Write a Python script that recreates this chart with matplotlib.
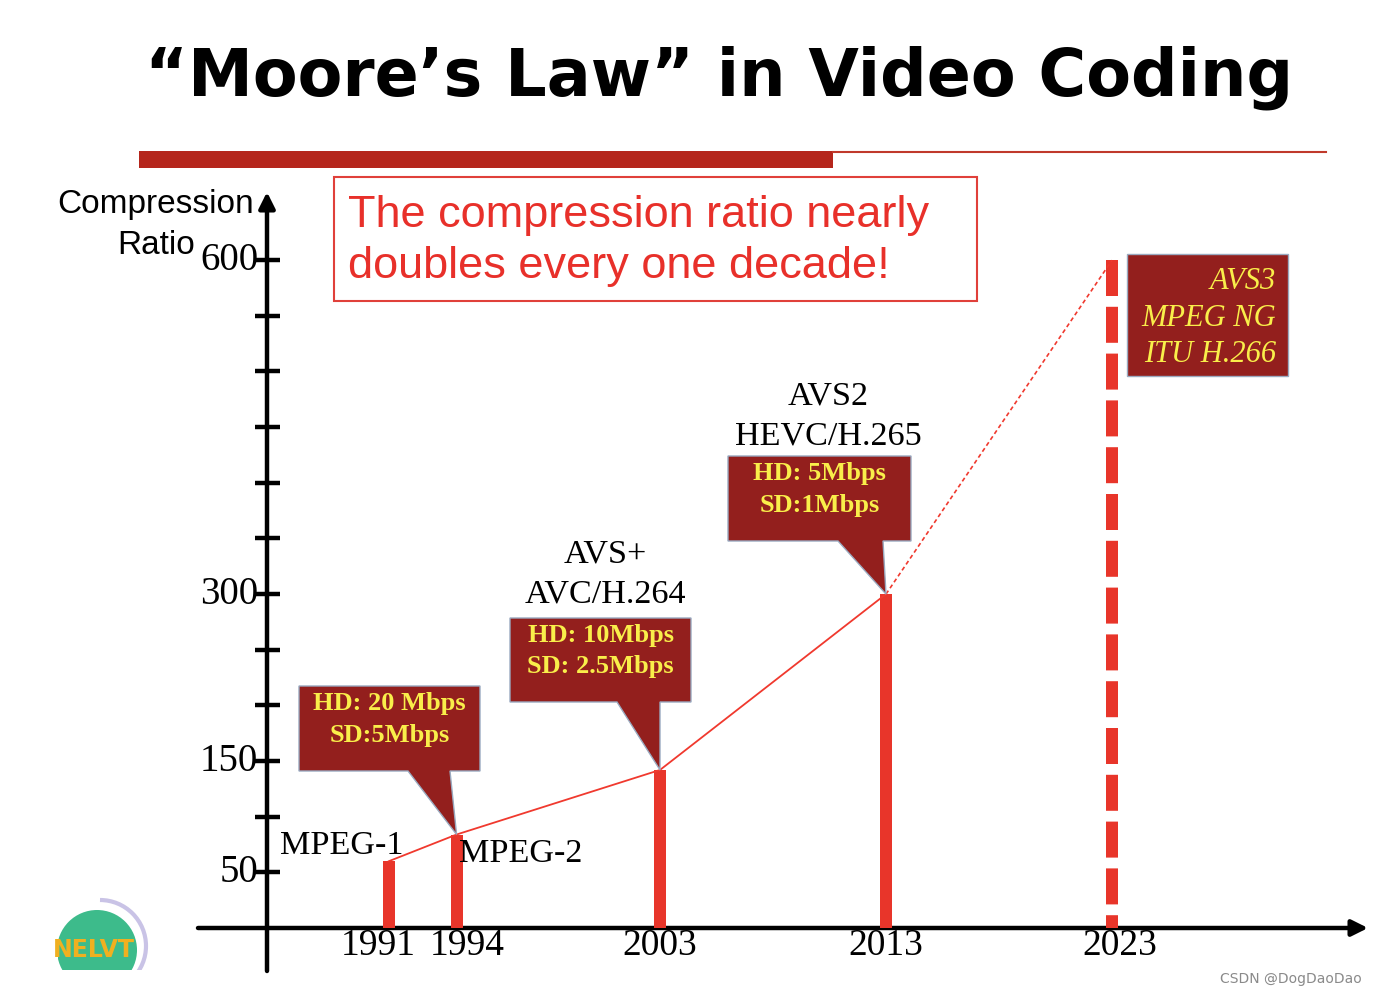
import matplotlib
matplotlib.use('Agg')
import matplotlib.pyplot as plt
import matplotlib.transforms as mtransforms
from matplotlib.patches import Rectangle, Polygon, Circle, Arc

# ---- data ----
years = [1991, 1994, 2003, 2013]
ratios = [60, 84, 142, 300]
future_year = 2023
future_ratio = 600
year_labels = ['1991', '1994', '2003', '2013', '2023']
y_ticks = list(range(50, 601, 50))
y_ticklabels = {50: '50', 150: '150', 300: '300', 600: '600'}
codecs = ['MPEG-1', 'MPEG-2', 'AVS+\nAVC/H.264', 'AVS2\nHEVC/H.265']
bitrates = ['HD: 20 Mbps\nSD:5Mbps', 'HD: 10Mbps\nSD: 2.5Mbps', 'HD: 5Mbps\nSD:1Mbps']
future_codecs = ['AVS3', 'MPEG NG', 'ITU H.266']

# ---- layout (pixels of the 1378x996 slide) ----
W, H = 1378, 996
X_PER_YEAR, X_2003 = 22.6, 660      # px per year, px of year 2003
Y_PER_UNIT, Y_ZERO = 1.113, 928     # px per ratio unit, px of ratio 0

BAR_RED = '#e8352a'
BOX_RED = '#931f1d'
YELLOW = '#f9ee4a'
SERIF = 'Liberation Serif'

fig = plt.figure(figsize=(W / 100, H / 100), dpi=100)
ax = fig.add_axes([0, 0, 1, 1])
ax.set_xlim(2003 - X_2003 / X_PER_YEAR, 2003 + (W - X_2003) / X_PER_YEAR)
ax.set_ylim((Y_ZERO - H) / Y_PER_UNIT, Y_ZERO / Y_PER_UNIT)
ax.axis('off')

# pixel coordinates, origin top-left
pix = mtransforms.Affine2D().scale(1 / W, -1 / H).translate(0, 1) + fig.transFigure
xpix_ydata = mtransforms.blended_transform_factory(pix, ax.transData)


def to_pix(x, y):
    return pix.inverted().transform(ax.transData.transform((x, y)))


# title and header rule
fig.text(719, 78, '\u201cMoore\u2019s Law\u201d in Video Coding', transform=pix,
         ha='center', va='center', fontsize=47, fontweight='bold', family='DejaVu Sans')
ax.add_patch(Rectangle((139, 151), 694, 17, transform=pix, color='#b5261c', lw=0))
ax.plot([833, 1326], [152, 152], transform=pix, color='#c0392b', lw=1.5)

# message box
ax.add_patch(Rectangle((334, 177), 643, 124, transform=pix, facecolor='white',
                       edgecolor='#e0403a', lw=1.5))
fig.text(348, 241, 'The compression ratio nearly\ndoubles every one decade!', transform=pix,
         ha='left', va='center', fontsize=32.5, color='#e8302a', linespacing=1.34,
         family='Liberation Sans')

# axes with arrows
arrow = dict(arrowstyle='-|>', color='k', lw=3.2, mutation_scale=24, shrinkA=0, shrinkB=0)
ax.annotate('', xy=(267, 192), xytext=(267, 971), xycoords=pix, arrowprops=arrow)
ax.annotate('', xy=(1368, 928), xytext=(198, 928), xycoords=pix, arrowprops=arrow)
ax.hlines(y_ticks, 255, 280, transform=xpix_ydata, colors='k', lw=3.2)
for v, lab in y_ticklabels.items():
    ax.text(258, v, lab, transform=xpix_ydata, ha='right', va='center',
            fontsize=28, family=SERIF)
fig.text(156, 205, 'Compression', transform=pix, ha='center', va='center',
         fontsize=24, family='Liberation Sans')
fig.text(156, 246, 'Ratio', transform=pix, ha='center', va='center',
         fontsize=24, family='Liberation Sans')

# bars
ax.bar(years, ratios, width=12 / X_PER_YEAR, color=BAR_RED, zorder=3)
ax.plot([future_year, future_year], [future_ratio, 0], color=BAR_RED,
        lw=12 * 0.72, ls=(0, (3.0, 0.9)), solid_capstyle='butt', zorder=3)

# trend line
ax.plot(years, ratios, color='#f0392e', lw=1.3, zorder=4)
ax.plot([years[-1], future_year], [ratios[-1], future_ratio], color='#f0392e',
        lw=1.2, ls=(0, (2.5, 1.8)), zorder=4)

# year labels
year_dx = [-11, 11, 0, 0, 8]
for yr, lab, dx in zip(years + [future_year], year_labels, year_dx):
    ax.annotate(lab, xy=(yr, 0), xytext=(dx, -18), textcoords='offset pixels',
                ha='center', va='center', fontsize=27, family=SERIF)

# codec names
codec_pos = [(403, 846, 'right'), (459, 854, 'left'), (605, 574, 'center'), (828, 416, 'center')]
for name, (x, y, ha) in zip(codecs, codec_pos):
    fig.text(x, y, name, transform=pix, ha=ha, va='center', multialignment='center',
             fontsize=24.6, linespacing=1.4, family=SERIF)

# callouts: box (l, r, t, b) and pointer base (pl, pr) in px, tip at the bar top
callouts = [((299, 480, 686, 771), (408, 450), 1),
            ((510, 691, 618, 702), (617, 660), 2),
            ((728, 911, 456, 541), (838, 883), 3)]
for text, ((l, r, t, b), (pl, pr), i) in zip(bitrates, callouts):
    tx, ty = to_pix(years[i], ratios[i])
    pts = [(l, t), (r, t), (r, b), (pr, b), (tx, ty), (pl, b), (l, b)]
    ax.add_patch(Polygon(pts, closed=True, transform=pix, facecolor=BOX_RED,
                         edgecolor='#9aaac0', lw=1, zorder=5))
    fig.text((l + r) / 2, (t + b) / 2 - 9, text, transform=pix, ha='center', va='center',
             multialignment='center', fontsize=19, fontweight='bold', color=YELLOW,
             linespacing=1.48, family=SERIF, zorder=6)

ax.add_patch(Rectangle((1127, 254), 161, 122, transform=pix, facecolor=BOX_RED,
                       edgecolor='#9aaac0', lw=1, zorder=5))
fig.text(1276, 318, '\n'.join(future_codecs), transform=pix, ha='right', va='center',
         multialignment='right', fontsize=22, style='italic', color=YELLOW,
         linespacing=1.32, family=SERIF, zorder=6)

# logo (clipped at slide bottom)
clip = Rectangle((58, 0), W, 970, transform=pix)
ring = Arc((100, 946), 92, 92, theta1=-90, theta2=90, transform=pix,
           color='#c9c3e6', lw=3)
globe = Circle((97, 950), 40, transform=pix, facecolor='#3dbb8b', edgecolor='none')
for p in (ring, globe):
    ax.add_patch(p)
    p.set_clip_path(clip)
fig.text(94, 950, 'NELVT', transform=pix, ha='center', va='center', fontsize=17,
         fontweight='bold', color='#f0b020', family='DejaVu Sans Condensed')

# watermark
fig.text(1362, 979, 'CSDN @DogDaoDao', transform=pix, ha='right', va='center',
         fontsize=10, color='#8a8a8a', family='DejaVu Sans')

fig.savefig('out.png', dpi=100, facecolor='white')
